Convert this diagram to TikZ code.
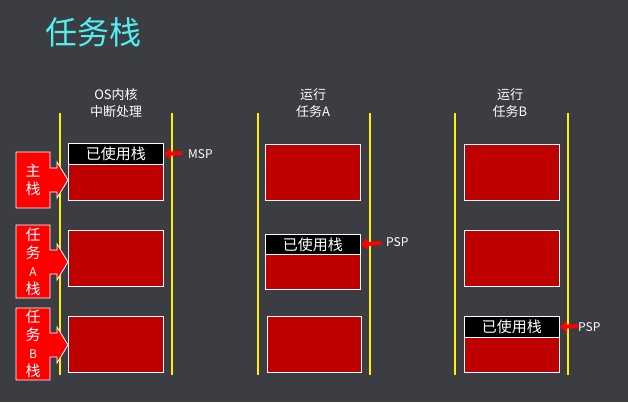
\documentclass[tikz,border=0pt]{standalone}
\usepackage{fontspec}
\setmainfont{Noto Sans CJK SC}
\begin{document}
\begin{tikzpicture}[x=1pt,y=-1pt,
  stk/.style={draw=white,fill=red!75!black,line width=0.8pt},
  band/.style={draw=white,fill=black,line width=0.8pt,text=white,font=\fontsize{15}{15}\selectfont,inner sep=0pt},
  yl/.style={draw=yellow,line width=1.5pt},
  hdr/.style={text=white,align=center,font=\fontsize{13}{17}\selectfont},
  ptr/.style={draw=red,line width=4pt,-{Triangle[length=7pt,width=11pt]}},
  ptrl/.style={text=white,font=\fontsize{12}{12}\selectfont,anchor=west,inner sep=1pt},
  call/.style={fill=red,draw=white,line width=0.8pt},
  callt/.style={text=white,align=center,font=\fontsize{15}{18}\selectfont}]
\usetikzlibrary{arrows.meta}
\fill[fill={rgb,255:red,60;green,61;blue,66}] (0,0) rectangle (628,402);
\useasboundingbox (0,0) rectangle (628,402);
\node[anchor=west,text={rgb,255:red,80;green,240;blue,240},font=\fontsize{32}{32}\selectfont] (title) at (42,32) {任务栈};
\foreach \xa/\xb in {60/172,258/370,455/568}{
  \draw[yl] (\xa,113) -- (\xa,375);
  \draw[yl] (\xb,113) -- (\xb,375);
}
\node[hdr] (h1) at (116,103) {OS内核\\中断处理};
\node[hdr] (h2) at (313,103) {运行\\任务A};
\node[hdr] (h3) at (510,103) {运行\\任务B};
\draw[stk] (68,143) rectangle (163,200);
\node[band,minimum width=95pt,minimum height=21pt,anchor=north west] (u1) at (68,143) {已使用栈};
\draw[stk] (68,230) rectangle (163,286);
\draw[stk] (68,316) rectangle (163,372);
\draw[stk] (265,144) rectangle (360,200);
\draw[stk] (265,234) rectangle (360,289);
\node[band,minimum width=95pt,minimum height=20pt,anchor=north west] (u2) at (265,234) {已使用栈};
\draw[stk] (267,316) rectangle (361,372);
\draw[stk] (464,144) rectangle (559,200);
\draw[stk] (464,230) rectangle (559,286);
\draw[stk] (464,316) rectangle (559,372);
\node[band,minimum width=95pt,minimum height=21pt,anchor=north west] (u3) at (464,316) {已使用栈};
\coordinate (m1) at (182,153);
\draw[ptr] (m1) -- (u1.east);
\node[ptrl] (msp) at (187,154) {MSP};
\coordinate (m2) at (381,243);
\draw[ptr] (m2) -- (u2.east);
\node[ptrl] (psp1) at (385,242) {PSP};
\coordinate (m3) at (578,326);
\draw[ptr] (m3) -- (u3.east);
\node[ptrl] (psp2) at (577,327) {PSP};
\foreach \t/\b/\m/\txt in {152/208/180/{主\\栈},225/298/262/{任\\务\\{\fontsize{12}{15}\selectfont A}\\栈},308/380/345/{任\\务\\{\fontsize{12}{15}\selectfont B}\\栈}}{
  \draw[call] (16,\t) -- (50,\t) -- (50,\m-12) -- (57,\m-12) -- (57,\m-18) -- (68,\m) -- (57,\m+18) -- (57,\m+12) -- (50,\m+12) -- (50,\b) -- (16,\b) -- cycle;
  \node[callt] at (33,{(\t+\b)/2}) {\txt};
}
\end{tikzpicture}
\end{document}
